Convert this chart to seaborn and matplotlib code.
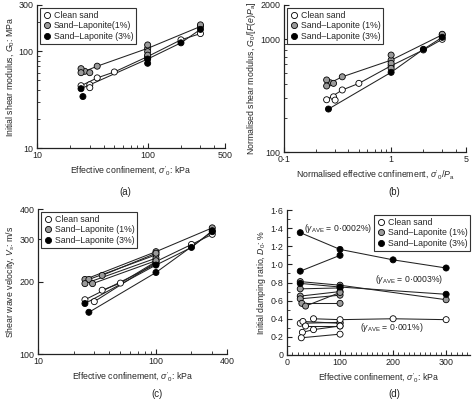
import numpy as np
import pandas as pd
import matplotlib
matplotlib.use("Agg")
import matplotlib.pyplot as plt
import seaborn as sns
from matplotlib.ticker import FixedLocator, FuncFormatter, NullFormatter, MultipleLocator
from matplotlib.lines import Line2D

# ---------------- data ----------------
materials = ["Clean sand", "Sand\u2013Laponite (1%)", "Sand\u2013Laponite (3%)"]

# (a) G0 [MPa] vs confinement [kPa]; each list = one connected test series
a_clean_x = [25, 35, 50, 100, 200, 300]
a_clean_y = [44, 53, 61, 88, 131, 152]
a_clean_px = [30, 30, 100]
a_clean_py = [45, 42, 85]
a_lap1_x = [27, 35, 100, 300]
a_lap1_y = [62, 70, 107, 180]
a_lap1_px = [25, 25, 30, 100, 100, 100, 300]
a_lap1_py = [66, 60, 60, 116, 99, 91, 187]
a_lap3_x = [25, 100, 200, 300]
a_lap3_y = [41, 83, 122, 168]
a_lap3_px = [26, 100]
a_lap3_py = [34, 75]

# (b) normalised G0 vs normalised confinement
b_clean_x = [0.25, 0.35, 0.5, 1, 2, 3]
b_clean_y = [290, 354, 405, 580, 800, 994]
b_clean_px = [0.29, 0.3]
b_clean_py = [308, 288]
b_lap1_x = [0.27, 0.35, 1, 3]
b_lap1_y = [410, 463, 650, 1090]
b_lap1_px = [0.25, 0.25, 0.29, 1, 1, 1, 3]
b_lap1_py = [434, 384, 405, 721, 609, 550, 1101]
b_lap3_x = [0.26, 1, 2, 3]
b_lap3_y = [240, 507, 811, 1035]

# (c) Vs [m/s] vs confinement [kPa]
c_clean = [([25, 100], [168, 236]),
           ([30, 100], [165, 240]),
           ([35, 50, 100, 200, 300], [184, 197, 242, 285, 314])]
c_lap1 = [([25, 100, 300], [204, 266, 334]),
          ([27, 100], [204, 258]),
          ([25, 100], [196, 250]),
          ([29, 100], [196, 244]),
          ([35, 100], [212, 262])]
c_lap3 = [([25, 100, 200, 300], [162, 234, 277, 325]),
          ([27, 100, 300], [149, 218, 322])]

# (d) damping ratio [%] vs confinement [kPa]
d_clean = [([25, 100], [0.35, 0.36]),
           ([30, 100], [0.37, 0.35]),
           ([35, 100], [0.32, 0.32]),
           ([50, 100, 200, 300], [0.40, 0.39, 0.40, 0.39]),
           ([29, 50, 100], [0.25, 0.28, 0.32]),
           ([27, 100], [0.19, 0.23])]
d_lap1 = [([25, 100, 300], [0.81, 0.77, 0.61]),
          ([25, 100], [0.73, 0.74]),
          ([25, 100], [0.65, 0.70]),
          ([25, 100], [0.62, 0.66]),
          ([28, 100], [0.57, 0.57]),
          ([35, 100], [0.54, 0.69])]
d_lap3 = [([25, 100, 200, 300], [1.35, 1.165, 1.05, 0.96]),
          ([25, 100], [0.925, 1.10]),
          ([25, 100, 300], [0.79, 0.75, 0.67])]

d_notes = ["(${\\gamma}_{\\rm AVE}$ = 0\u00b70002%)",
           "(${\\gamma}_{\\rm AVE}$ = 0\u00b70003%)",
           "(${\\gamma}_{\\rm AVE}$ = 0\u00b7001%)"]
d_note_x = [32, 165, 138]
d_note_y = [1.40, 0.83, 0.30]

# ---------------- style ----------------
sns.set_theme(style="ticks")
plt.rcParams["font.family"] = ["Liberation Sans", "DejaVu Sans"]
plt.rcParams["mathtext.fontset"] = "custom"
plt.rcParams["mathtext.rm"] = "Liberation Sans"
plt.rcParams["mathtext.it"] = "Liberation Sans:italic"
plt.rcParams["mathtext.bf"] = "Liberation Sans:bold"
FS = 6.1
face = {materials[0]: "white", materials[1]: "#9a9a9a", materials[2]: "black"}


def frame(series_by_mat, extra_by_mat=None):
    rows = []
    sid = 0
    for m, series in zip(materials, series_by_mat):
        for xs, ys in series:
            for x, y in zip(xs, ys):
                rows.append((x, y, m, sid))
            sid += 1
    df = pd.DataFrame(rows, columns=["x", "y", "mat", "spec"])
    pts = df.copy()
    if extra_by_mat:
        ex = []
        for m, (xs, ys) in zip(materials, extra_by_mat):
            for x, y in zip(xs, ys):
                ex.append((x, y, m, -1))
        pts = pd.concat([pts, pd.DataFrame(ex, columns=["x", "y", "mat", "spec"])])
    order = {m: i for i, m in enumerate(materials)}
    pts = pts.sort_values("mat", key=lambda s: s.map(order), kind="stable")
    return df, pts


def draw(ax, df, pts):
    sns.lineplot(data=df, x="x", y="y", units="spec", estimator=None, sort=False,
                 color="#222222", lw=0.75, legend=False, ax=ax, zorder=2)
    sns.scatterplot(data=pts, x="x", y="y", hue="mat", palette=face, hue_order=materials,
                    edgecolor="black", linewidth=0.6, s=19, legend=False, ax=ax, zorder=3)


def fmt(v, pos=None):
    s = ("%g" % v)
    return s.replace(".", "\u00b7")


def legend(ax, labels, loc, anchor=None, pad=0.35):
    handles = [Line2D([], [], marker="o", ls="none", markersize=4.4, markerfacecolor=face[m],
                      markeredgecolor="black", markeredgewidth=0.6) for m in materials]
    kw = dict(bbox_to_anchor=anchor) if anchor else {}
    lg = ax.legend(handles, labels, loc=loc, fontsize=FS + 0.2, frameon=True, fancybox=False,
                   framealpha=1, edgecolor="#333333", borderpad=0.3, labelspacing=0.2,
                   handletextpad=0.3, handlelength=1.0, borderaxespad=pad, **kw)
    lg.get_frame().set_linewidth(0.8)


def style(ax):
    sns.despine(ax=ax)
    for s in ("left", "bottom"):
        ax.spines[s].set_linewidth(0.9)
        ax.spines[s].set_color("#222222")
    ax.tick_params(which="both", direction="in", labelsize=FS + 0.3, colors="#222222", pad=2.5)
    ax.tick_params(which="major", length=3.5, width=0.8)
    ax.tick_params(which="minor", length=2, width=0.6)
    ax.xaxis.label.set_size(FS + 0.2)
    ax.yaxis.label.set_size(FS + 0.2)
    ax.xaxis.labelpad = 3
    ax.yaxis.labelpad = 2


def logticks(axis, major, minor):
    axis.set_major_locator(FixedLocator(major))
    axis.set_minor_locator(FixedLocator(minor))
    axis.set_major_formatter(FuncFormatter(fmt))
    axis.set_minor_formatter(NullFormatter())


fig = plt.figure(figsize=(4.74, 3.99), dpi=100)
W, H = 474, 399


def add_ax(l, r, t, b):
    return fig.add_axes([l / W, 1 - b / H, (r - l) / W, (b - t) / H])


axa = add_ax(37, 225, 5, 148)
axb = add_ax(284, 466, 5, 152)
axc = add_ax(38, 227, 209, 354)
axd = add_ax(287, 470, 210, 355)

# (a)
df, pts = frame([[(a_clean_x, a_clean_y)], [(a_lap1_x, a_lap1_y)], [(a_lap3_x, a_lap3_y)]],
                [(a_clean_px, a_clean_py), (a_lap1_px, a_lap1_py), (a_lap3_px, a_lap3_py)])
draw(axa, df, pts)
axa.set_xscale("log"); axa.set_yscale("log")
axa.set_xlim(10, 500); axa.set_ylim(10, 300)
logticks(axa.xaxis, [10, 100, 500], [20, 30, 40, 50, 60, 70, 80, 90, 200, 300, 400])
logticks(axa.yaxis, [10, 100, 300], [20, 30, 40, 50, 60, 70, 80, 90, 200])
axa.set_xlabel("Effective confinement, $\\sigma'_0$: kPa")
axa.set_ylabel("Initial shear modulus, $G_0$: MPa")
style(axa)
legend(axa, ["Clean sand", "Sand\u2013Laponite(1%)", "Sand\u2013Laponite (3%)"], "upper left")

# (b)
df, pts = frame([[(b_clean_x, b_clean_y)], [(b_lap1_x, b_lap1_y)], [(b_lap3_x, b_lap3_y)]],
                [(b_clean_px, b_clean_py), (b_lap1_px, b_lap1_py), ([], [])])
draw(axb, df, pts)
axb.set_xscale("log"); axb.set_yscale("log")
axb.set_xlim(0.1, 5); axb.set_ylim(100, 2000)
logticks(axb.xaxis, [0.1, 1, 5], [0.2, 0.3, 0.4, 0.5, 0.6, 0.7, 0.8, 0.9, 2, 3, 4])
logticks(axb.yaxis, [100, 1000, 2000], [200, 300, 400, 500, 600, 700, 800, 900])
axb.set_xlabel("Normalised effective confinement, $\\sigma'_0/P_{\\rm a}$")
axb.set_ylabel("Normalised shear modulus, $G_0/[F(e)P_{\\rm a}]$")
style(axb)
legend(axb, materials, "upper left")

# (c)
df, pts = frame([c_clean, c_lap1, c_lap3])
draw(axc, df, pts)
axc.set_xscale("log"); axc.set_yscale("log")
axc.set_xlim(10, 400); axc.set_ylim(100, 400)
logticks(axc.xaxis, [10, 100, 400], [20, 30, 40, 50, 60, 70, 80, 90, 200, 300])
logticks(axc.yaxis, [100, 200, 300, 400], [])
axc.set_xlabel("Effective confinement, $\\sigma'_0$: kPa")
axc.set_ylabel("Shear wave velocity, $V_s$: m/s")
style(axc)
legend(axc, materials, "upper left")

# (d)
df, pts = frame([d_clean, d_lap1, d_lap3])
draw(axd, df, pts)
axd.set_xlim(0, 345); axd.set_ylim(0, 1.6)
axd.xaxis.set_major_locator(FixedLocator([0, 100, 200, 300]))
axd.xaxis.set_minor_locator(MultipleLocator(10))
axd.yaxis.set_major_locator(MultipleLocator(0.2))
axd.yaxis.set_minor_locator(MultipleLocator(0.1))
axd.yaxis.set_major_formatter(FuncFormatter(lambda v, p: ("%.1f" % v).replace(".", "\u00b7") if v > 0 else "0"))
axd.set_xlabel("Effective confinement, $\\sigma'_0$: kPa")
axd.set_ylabel("Initial damping ratio, $D_0$: %")
style(axd)
legend(axd, materials, "upper right", anchor=(1.0, 0.965), pad=0.0)
for t, x, y in zip(d_notes, d_note_x, d_note_y):
    axd.text(x, y, t, fontsize=FS + 0.1, va="center", ha="left", color="#222222")

for lab, x, y in [("(a)", 125, 192), ("(b)", 394, 192), ("(c)", 157, 394), ("(d)", 394, 394)]:
    fig.text(x / W, 1 - y / H, lab, ha="center", va="center", fontsize=FS + 0.8, color="#222222")

fig.savefig("out.png", dpi=100)
